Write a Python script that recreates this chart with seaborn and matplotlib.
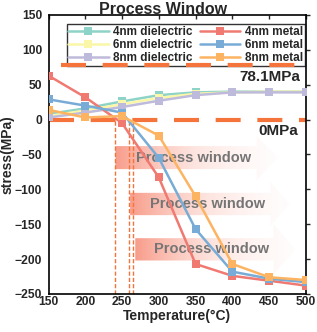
import numpy as np
import matplotlib
matplotlib.use('Agg')
import matplotlib.pyplot as plt
import matplotlib.patches as mpatches
import seaborn as sns
import pandas as pd

temps = [150, 200, 250, 300, 350, 400, 450, 500]

diel_4nm = [8, 16, 26, 35, 39, 40, 40, 40]
diel_6nm = [5, 13, 22, 31, 37, 39, 40, 40]
diel_8nm = [3, 10, 18, 27, 35, 39, 39, 39]
metal_4nm = [63, 32, -5, -83, -207, -224, -231, -238]
metal_6nm = [29, 20, 10, -55, -157, -218, -228, -233]
metal_8nm = [14, 3, 5, -23, -110, -207, -226, -230]

series_names = ['4nm dielectric', '6nm dielectric', '8nm dielectric',
                '4nm metal', '6nm metal', '8nm metal']
series_vals = [diel_4nm, diel_6nm, diel_8nm, metal_4nm, metal_6nm, metal_8nm]
colors = ['#8ed3c7', '#fbf7a8', '#bebadb', '#f07a72', '#78acd6', '#fdb462']

limit_stress = 78.1
window_starts = [240, 259, 265]

sns.set_style('white')
plt.rcParams['font.family'] = ['Liberation Sans', 'DejaVu Sans']
plt.rcParams['font.weight'] = 'bold'

df = pd.DataFrame({
    'T': temps * len(series_names),
    'stress': sum(series_vals, []),
    'series': sum([[n] * len(temps) for n in series_names], []),
})

fig = plt.figure(figsize=(3.17, 3.32), dpi=100)
ax = fig.add_axes([0.153, 0.1145, 0.812, 0.8405])

# gradient arrows (process windows)
arrows = [
    # x0, y_lo, y_hi, head_base, tip, head_lo, head_hi
    (241, -71, -38, 433, 462, -87, -24),
    (261, -137, -105, 452, 478, -152, -90),
    (268, -202, -170, 456, 486, -222, -150),
]
grad = np.linspace(0, 1, 256)
cmap = matplotlib.colors.LinearSegmentedColormap.from_list(
    'fade', [(0.97, 0.56, 0.48, 0.88), (0.99, 0.80, 0.76, 0.5), (1, 0.93, 0.92, 0.12)])
for x0, ylo, yhi, hb, tip, hlo, hhi in arrows:
    ymid = (ylo + yhi) / 2
    verts = [(x0, ylo), (hb, ylo), (hb, hlo), (tip, ymid), (hb, hhi), (hb, yhi), (x0, yhi)]
    poly = mpatches.Polygon(verts, closed=True, facecolor='none', edgecolor='none')
    ax.add_patch(poly)
    im = ax.imshow(grad[None, :], extent=[x0, tip, hlo, hhi], aspect='auto',
                   cmap=cmap, zorder=1, interpolation='bilinear')
    im.set_clip_path(poly)
    ax.text((x0 + hb) / 2 + 10, ymid, 'Process window', ha='center', va='center',
            fontsize=10.5, color='#757575', fontweight='bold', zorder=2)

sns.lineplot(data=df, x='T', y='stress', hue='series', hue_order=series_names,
             palette=colors, marker='s', markersize=6, markeredgewidth=0,
             linewidth=1.8, ax=ax, zorder=3)

# reference lines
ax.axhline(limit_stress, xmin=0.05, color='#f4743b', lw=3, dashes=(6, 4), zorder=6)
ax.axhline(0, color='#f4743b', lw=3, dashes=(6, 4), zorder=2)
for xs in window_starts:
    ax.plot([xs, xs], [-250, 0], color='#f4743b', lw=1, ls=(0, (3, 1.5)), zorder=2)

ax.text(492, 71, '78.1MPa', ha='right', va='top', fontsize=11, fontweight='bold', zorder=7)
ax.text(490, -7, '0MPa', ha='right', va='top', fontsize=11, fontweight='bold', zorder=7)

ax.set_xlim(150, 500)
ax.set_ylim(-250, 150)
ax.set_xticks(range(150, 501, 50))
ax.set_yticks(range(-250, 151, 50))
ax.set_xlabel('Temperature(°C)', fontsize=10, fontweight='bold', labelpad=1)
ax.set_ylabel('stress(MPa)', fontsize=10, fontweight='bold', labelpad=0)
ax.set_title('Process Window', fontsize=11.5, fontweight='bold', pad=1, x=0.446)
ax.tick_params(axis='both', labelsize=8.7, length=3, width=1, pad=1.5)
ax.tick_params(axis='x', direction='in', top=True)
ax.tick_params(axis='y', direction='out', right=True)
for lab in ax.get_xticklabels() + ax.get_yticklabels():
    lab.set_fontweight('bold')
for s in ax.spines.values():
    s.set_linewidth(1.2)
    s.set_color('black')

handles, labels = ax.get_legend_handles_labels()
leg = ax.legend(handles, labels, ncol=2, loc='upper right', bbox_to_anchor=(0.995, 0.968),
                fontsize=8.5, frameon=True, fancybox=False, edgecolor='black',
                handlelength=3.4, columnspacing=0.6, handletextpad=0.4,
                borderpad=0.15, labelspacing=0.12, borderaxespad=0)
leg.get_frame().set_linewidth(1)
leg.set_zorder(5)

fig.savefig('out.png', dpi=100)
